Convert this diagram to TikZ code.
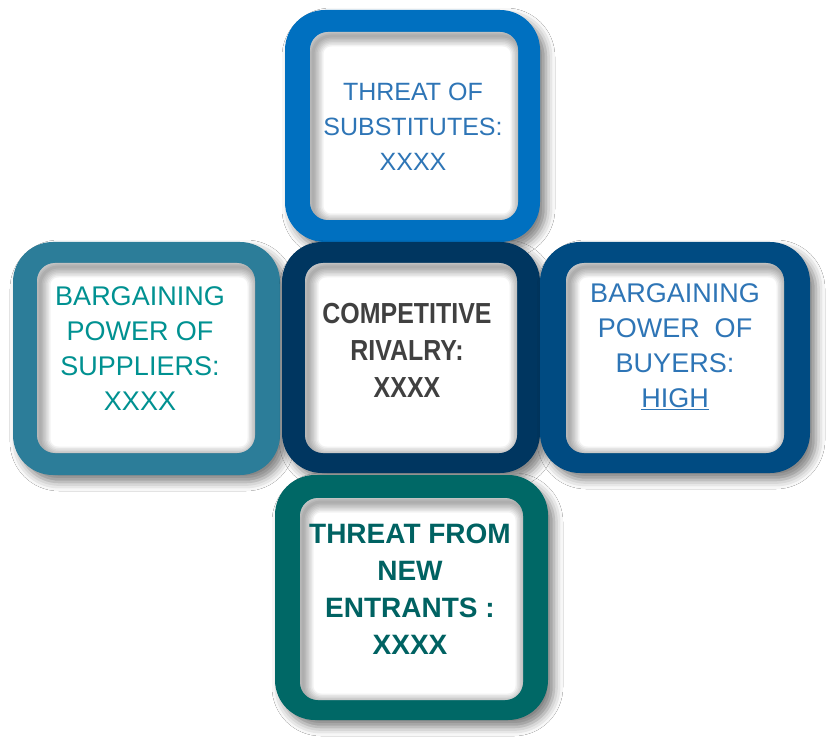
\documentclass[tikz,border=0pt]{standalone}
\usepackage{fontspec}
\setmainfont{Liberation Sans}
\newfontfamily\narrowbold[FakeStretch=0.86]{Liberation Sans Bold}
\usetikzlibrary{shadows.blur}
\definecolor{subst_col}{RGB}{0,112,192}
\definecolor{suppl_col}{RGB}{44,125,153}
\definecolor{rival_col}{RGB}{0,54,96}
\definecolor{buyer_col}{RGB}{0,75,130}
\definecolor{entry_col}{RGB}{0,104,102}
\definecolor{blue_txt}{RGB}{46,117,182}
\definecolor{teal_txt}{RGB}{0,145,145}
\definecolor{gray_txt}{RGB}{64,64,64}
\definecolor{green_txt}{RGB}{0,98,98}

\begin{document}
\begin{tikzpicture}[x=1pt,y=-1pt,
	outer_box/.style={rectangle,rounded corners=40pt,inner sep=0pt,
		blur shadow={shadow xshift=6pt,shadow yshift=-7pt,shadow blur radius=9pt,shadow opacity=50}},
	inner_box/.style={rectangle,rounded corners=18pt,fill=white,inner sep=0pt,
		path picture={\foreach \w in {3,6,...,21}{\draw[black,opacity=0.05,line width=\w pt,rounded corners=18pt]
			([shift={(3pt,-4pt)}]path picture bounding box.south west) rectangle ([shift={(3pt,-4pt)}]path picture bounding box.north east);}}},
	box_text/.style={align=center,inner sep=0pt}]

	\fill[white] (0,0) rectangle (833,746);
	\useasboundingbox (0,0) rectangle (833,746);

	% boxes
	\node[outer_box,fill=subst_col,minimum width=255pt,minimum height=232pt] (1) at (412.5,126) {};
	\node[inner_box,minimum width=208pt,minimum height=188pt] (1i) at (414,126) {};
	\node[outer_box,fill=suppl_col,minimum width=267pt,minimum height=233pt] (2) at (146.5,358.5) {};
	\node[inner_box,minimum width=218pt,minimum height=190pt] (2i) at (146,358) {};
	\node[outer_box,fill=rival_col,minimum width=258pt,minimum height=231pt] (3) at (411,357.5) {};
	\node[inner_box,minimum width=212pt,minimum height=190pt] (3i) at (411,358) {};
	\node[outer_box,fill=buyer_col,minimum width=270pt,minimum height=231pt] (4) at (675,357.5) {};
	\node[inner_box,minimum width=218pt,minimum height=190pt] (4i) at (675,358) {};
	\node[outer_box,fill=entry_col,minimum width=273pt,minimum height=245pt] (5) at (411.5,597.5) {};
	\node[inner_box,minimum width=223pt,minimum height=202pt] (5i) at (411.5,599) {};

	% labels
	\node[box_text,text=blue_txt,font=\fontsize{25}{35}\selectfont] (1t) at (413,127)
		{THREAT OF\\SUBSTITUTES:\\XXXX};
	\node[box_text,text=teal_txt,font=\fontsize{27}{35}\selectfont] (2t) at (140,349)
		{BARGAINING\\POWER OF\\SUPPLIERS:\\XXXX};
	\node[box_text,text=gray_txt,font=\narrowbold\fontsize{29}{37}\selectfont] (3t) at (407,350)
		{COMPETITIVE\\RIVALRY:\\XXXX};
	\node[box_text,text=blue_txt,font=\fontsize{27}{35}\selectfont] (4t) at (675,347)
		{BARGAINING\\POWER~~OF\\BUYERS:\\\underline{HIGH}};
	\node[box_text,text=green_txt,font=\bfseries\fontsize{28}{37}\selectfont] (5t) at (410,589)
		{THREAT FROM\\NEW\\ENTRANTS :\\XXXX};
\end{tikzpicture}
\end{document}
